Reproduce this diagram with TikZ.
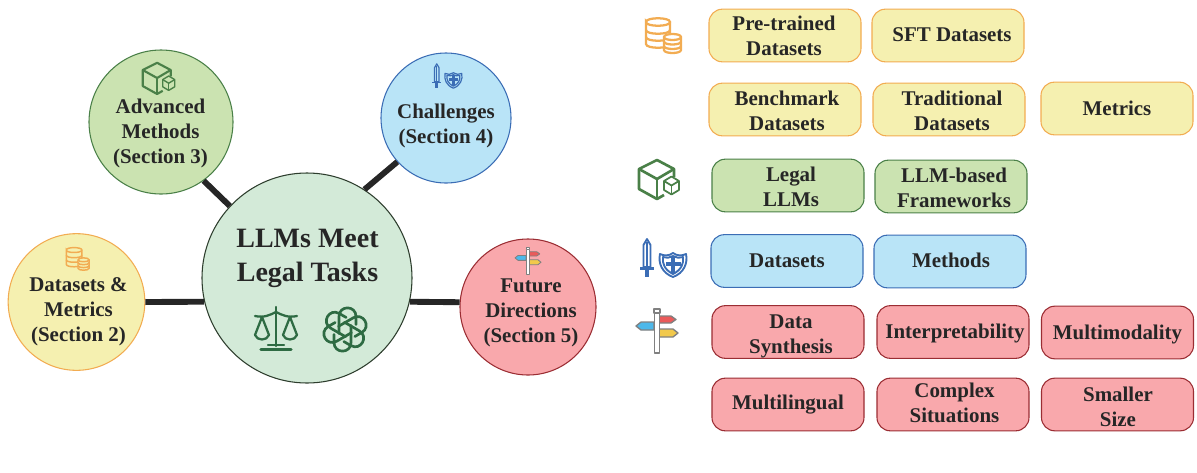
\documentclass[tikz,border=0pt]{standalone}
\usepackage{fontspec}
\setmainfont{Liberation Serif}
\definecolor{yelfill}{HTML}{F5F0B0}
\definecolor{yelline}{HTML}{F2AC52}
\definecolor{grefill}{HTML}{CBE3B1}
\definecolor{greline}{HTML}{4A8048}
\definecolor{blufill}{HTML}{B9E4F7}
\definecolor{bluline}{HTML}{3B6DB5}
\definecolor{redfill}{HTML}{F9A8AC}
\definecolor{redline}{HTML}{9B2D33}
\definecolor{mainfill}{HTML}{D3EAD8}
\definecolor{mainline}{HTML}{2D3D2D}
\definecolor{legalcol}{HTML}{2E6B43}
\definecolor{inkcol}{HTML}{262626}
\definecolor{signred}{HTML}{EA5A5A}
\definecolor{signblue}{HTML}{4DB8EA}
\definecolor{signyel}{HTML}{F2C94C}
\begin{document}
\begin{tikzpicture}[x=.75pt,y=-.75pt]
	\useasboundingbox (0,0) rectangle (1197,472);
	\newcommand{\boxw}{114pt} % width of the boxes
	\newcommand{\boxh}{39.5pt} % height of the boxes

	% styles of the circles, boxes and links
	\tikzset{
		topic/.style={
			circle,
			draw=#1line,
			fill=#1fill,
			line width=0.8pt,
			inner sep=0pt
			},
		card/.style={
			rounded corners=10pt,
			draw=#1line,
			fill=#1fill,
			line width=0.8pt,
			minimum width=\boxw,
			minimum height=\boxh,
			inner sep=0pt
			},
		caption/.style={
			align=center,
			text=inkcol,
			inner sep=0pt,
			font=\fontsize{15.7}{18.7}\selectfont\bfseries
			},
		link/.style={
			draw=inkcol,
			line width=4.4pt
			}
	}

	% a box and its text: name, colour, box x, box y, text x, text y, text
	\newcommand{\cardnode}[7]{
		\node[card=#2] (#1) at (#3,#4) {};
		\node[caption] (#1text) at (#5,#6) {#7};
	}

	% icons: centre x, centre y, scale, colour behind
	\newcommand{\dbicon}[4]{
		\begin{scope}[shift={(#1,#2)},scale=#3,draw=yelline,line width=#3*1.7pt]
			\draw (-18,-13) .. controls (-18,-18) and (6,-18) .. (6,-13) .. controls (6,-8) and (-18,-8) .. (-18,-13) -- (-18,9) .. controls (-18,14) and (6,14) .. (6,9) -- (6,-13);
			\draw (-18,-5) .. controls (-18,0) and (6,0) .. (6,-5);
			\draw (-18,2) .. controls (-18,7) and (6,7) .. (6,2);
			\draw[fill=#4] (0,2) .. controls (0,-2) and (17,-2) .. (17,2) -- (17,15) .. controls (17,19) and (0,19) .. (0,15) -- cycle;
			\draw (0,2) .. controls (0,6) and (17,6) .. (17,2);
			\draw (0,6.5) .. controls (0,10.5) and (17,10.5) .. (17,6.5);
			\draw (0,11) .. controls (0,15) and (17,15) .. (17,11);
		\end{scope}
	}
	\newcommand{\cubeicon}[4]{
		\begin{scope}[shift={(#1,#2)},scale=#3,draw=greline,line width=#3*2pt,line join=round]
			\draw (4,16) -- (-3,20) -- (-21,10) -- (-21,-10) -- (-3,-19) -- (14,-10) -- (14,-2);
			\draw (-21,-10) -- (-3,0) -- (14,-10);
			\draw (-3,0) -- (-3,20);
			\begin{scope}[line width=#3*1.3pt]
				\draw[fill=#4] (11.5,-2.5) -- (19,2) -- (19,11) -- (11.5,15.5) -- (4,11) -- (4,2) -- cycle;
				\draw (4,2) -- (11.5,6.5) -- (19,2);
				\draw (11.5,6.5) -- (11.5,15.5);
			\end{scope}
		\end{scope}
	}
	\newcommand{\shieldicon}[4]{
		\begin{scope}[shift={(#1,#2)},scale=#3,draw=bluline,line width=#3*1.4pt,line join=round]
			\draw[fill=#4] (-16,-19) -- (-12.5,-13) -- (-12.5,9) -- (-19.5,9) -- (-19.5,-13) -- cycle;
			\fill[bluline] (-16.7,-16) rectangle (-15.3,9);
			\fill[bluline] (-23,9) rectangle (-9,11.5);
			\fill[bluline] (-18,11.5) rectangle (-14,19);
			\draw[fill=#4] (10,-5) .. controls (14,-2) and (19,-2) .. (23,-4) .. controls (25,5) and (21,15) .. (10,19) .. controls (-1,15) and (-5,5) .. (-3,-4) .. controls (1,-2) and (6,-2) .. (10,-5) -- cycle;
			\draw (10,-2) .. controls (13,0) and (16,0) .. (20,-1) .. controls (21,6) and (18,12) .. (10,16) .. controls (2,12) and (-1,6) .. (0,-1) .. controls (4,0) and (7,0) .. (10,-2) -- cycle;
			\fill[bluline] (8,-1) rectangle (12,15);
			\fill[bluline] (2.5,3.5) rectangle (17.5,7.5);
		\end{scope}
	}
	\newcommand{\signicon}[3]{
		\begin{scope}[shift={(#1,#2)},scale=#3,line width=#3*1pt,line join=round,draw=gray]
			\draw[fill=signred] (2,-15) -- (14,-15) -- (19,-11.5) -- (14,-8) -- (2,-8) -- cycle;
			\draw[fill=signblue] (-3,-9) -- (-16,-9) -- (-21,-5) -- (-16,-1) -- (-3,-1) -- cycle;
			\draw[fill=signyel] (2,-2) -- (16,-2) -- (21,2) -- (16,6) -- (2,6) -- cycle;
			\draw[fill=white] (-2.5,-19) rectangle (2.5,22);
			\draw[fill=white] (-3,-22) rectangle (3,-18);
		\end{scope}
	}

	% circles
	\node[topic=main,minimum size=157.5pt] (main) at (307,278) {};
	\node[topic=gre,minimum size=108pt] (adv) at (161,122) {};
	\node[topic=yel,minimum size=102.5pt] (dat) at (76.5,302) {};
	\node[topic=blu,minimum size=97.5pt] (chal) at (446,118) {};
	\node[topic=red,minimum size=102pt] (fut) at (528,307) {};

	% links
	\draw[link] (adv.-54) -- (main.137);
	\draw[link] (dat.0) -- (main.193);
	\draw[link] (chal.222) -- (main.57);
	\draw[link] (fut.176) -- (main.-13);

	% captions of the circles
	\node[caption,font=\fontsize{21}{25.5}\selectfont\bfseries] (maintext) at (307.5,258.5) {LLMs Meet\\Legal Tasks};
	\node[caption] (advtext) at (160.5,133.5) {Advanced\\Methods\\(Section 3)};
	\node[caption] (dattext) at (78.5,312) {Datasets \&\\Metrics\\(Section 2)};
	\node[caption] (chaltext) at (446,126) {Challenges\\(Section 4)};
	\node[caption] (futtext) at (531,313) {Future\\Directions\\(Section 5)};

	% balance
	\begin{scope}[shift={(276,329)},draw=legalcol,line width=1.7pt,line join=round,line cap=round]
		\draw (0,-22) -- (0,17);
		\draw (-21,-13) .. controls (-12,-11) and (-6,-14) .. (0,-17) .. controls (6,-14) and (12,-11) .. (21,-13);
		\draw (-14,-12) -- (-21,6) .. controls (-19,12) and (-9,12) .. (-7,6) -- cycle;
		\draw (14,-12) -- (7,6) .. controls (9,12) and (19,12) .. (21,6) -- cycle;
		\draw (-8,16) -- (8,16);
		\draw[line width=2.4pt] (-15,20.5) -- (15,20.5);
	\end{scope}
	% knot
	\begin{scope}[shift={(345,329.5)},draw=legalcol,line width=2pt,line cap=round]
		\foreach \ang in {0,60,...,300}{
			\draw[rotate=\ang] (-6,4) -- (-6,-13) .. controls (-6,-24.5) and (11,-24.5) .. (11,-13) -- (11,-5);
		}
	\end{scope}

	% icons of the circles
	\cubeicon{159.5}{78}{.8}{grefill}
	\dbicon{78}{258.5}{.65}{yelfill}
	\shieldicon{447}{76}{.64}{blufill}
	\signicon{528}{261}{.62}

	% icons of the rows
	\dbicon{664}{35}{1}{white}
	\cubeicon{660}{179}{1}{white}
	\shieldicon{663}{258}{1}{white}
	\signicon{657}{331}{1}

	% boxes
	\cardnode{pretrain}{yel}{785}{35.5}{784}{36}{Pre-trained\\Datasets}
	\cardnode{sft}{yel}{948}{35.5}{952}{35}{SFT Datasets}
	\cardnode{bench}{yel}{785}{109.5}{787}{111}{Benchmark\\Datasets}
	\cardnode{trad}{yel}{949}{109.5}{952}{111}{Traditional\\Datasets}
	\cardnode{metr}{yel}{1117}{108.5}{1117}{108.5}{Metrics}
	\cardnode{legal}{gre}{788}{185.5}{791}{187}{Legal\\LLMs}
	\cardnode{frame}{gre}{951}{186.5}{954}{188}{LLM-based\\Frameworks}
	\cardnode{datas}{blu}{787}{261}{787}{260.5}{Datasets}
	\cardnode{meth}{blu}{950}{261.5}{951}{260.5}{Methods}
	\cardnode{synth}{red}{788}{332}{791}{336}{Data\\Synthesis}
	\cardnode{interp}{red}{953}{332}{955}{333}{Interpretability}
	\cardnode{modal}{red}{1117.5}{332.5}{1117.5}{334}{Multimodality}
	\cardnode{lingual}{red}{788}{404.5}{788}{404.5}{Multilingual}
	\cardnode{compl}{red}{953}{404.5}{954.5}{403}{Complex\\Situations}
	\cardnode{small}{red}{1117.5}{404.5}{1118}{407}{Smaller\\Size}
\end{tikzpicture}
\end{document}
